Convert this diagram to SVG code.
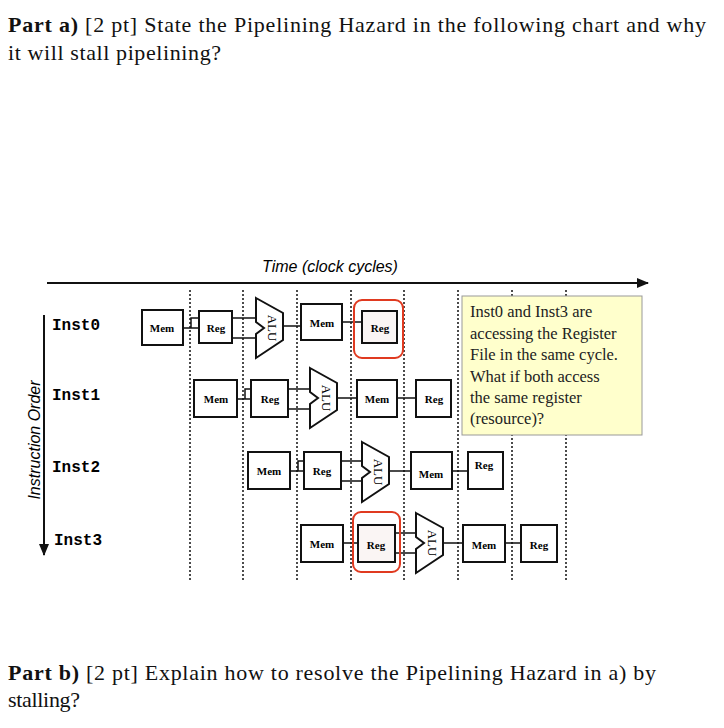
<svg xmlns="http://www.w3.org/2000/svg" width="724" height="728" viewBox="0 0 724 728">
<style>
.t{font-family:"Liberation Serif",serif;font-size:22px;fill:#111}
.b{stroke:#111;stroke-width:2;fill:#fff}
.l{font-family:"Liberation Serif",serif;font-size:11px;font-weight:bold;text-anchor:middle}
.i{font-family:"Liberation Mono",monospace;font-size:16px;font-weight:bold}
.w{stroke:#111;stroke-width:1.5;fill:none}
.d{stroke:#111;stroke-width:1.5;stroke-dasharray:2 2}
.hz{fill:none;stroke:#e03a20;stroke-width:2}
.n{font-family:"Liberation Serif",serif;font-size:16.5px;fill:#222}
</style>
<defs>
<marker id="ah" markerUnits="userSpaceOnUse" markerWidth="12" markerHeight="10" refX="11" refY="5" orient="auto"><path d="M0,0L12,5L0,10z" fill="#111"/></marker>
<g id="alu"><path d="M0,0L27,15L27,42L0,60L0,36L8,30L0,24Z" class="b"/><text transform="translate(16,30) rotate(90)" class="l" dy="4" style="font-weight:normal;font-size:13px">ALU</text></g>
</defs>
<text class="t" x="8" y="32" textLength="698"><tspan font-weight="bold">Part a)</tspan> [2 pt] State the Pipelining Hazard in the following chart and why</text>
<text class="t" x="8" y="60" textLength="213">it will stall pipelining?</text>
<text class="t" x="8" y="680" textLength="648"><tspan font-weight="bold">Part b)</tspan> [2 pt] Explain how to resolve the Pipelining Hazard in a) by</text>
<text class="t" x="8" y="707" textLength="72">stalling?</text>
<text x="330" y="272" font-family="Liberation Sans,sans-serif" font-size="16" font-style="italic" text-anchor="middle">Time (clock cycles)</text>
<text transform="translate(40,440) rotate(-90)" font-family="Liberation Sans,sans-serif" font-size="16" font-style="italic" text-anchor="middle">Instruction Order</text>
<g id="connectors">
<line x1="47" y1="283" x2="648" y2="283" stroke="#111" stroke-width="2" marker-end="url(#ah)"/>
<line x1="44" y1="315" x2="44" y2="555" stroke="#111" stroke-width="2" marker-end="url(#ah)"/>
<g class="d"><line x1="190" y1="290" x2="190" y2="582"/><line x1="243" y1="290" x2="243" y2="582"/><line x1="297" y1="290" x2="297" y2="582"/><line x1="351" y1="290" x2="351" y2="582"/><line x1="404" y1="290" x2="404" y2="582"/><line x1="458" y1="290" x2="458" y2="582"/><line x1="512" y1="290" x2="512" y2="582"/><line x1="566" y1="290" x2="566" y2="582"/></g>
<path class="w" d="M183,328H199M191,328V318H199M232,318H256M232,338H256M283,326H301M342,322H362"/>
<path class="w" d="M237,399H251M245,399V389H251M288,389H310M288,409H310M337,398H357M397,398H416"/>
<path class="w" d="M290,471H304M298,471V461H304M341,461H362M341,481H362M389,471H411M452,471H468"/>
<path class="w" d="M343,543H358M395,533H416M395,553H416M443,543H463M505,543H521"/>
</g>
<g id="inst0"><text class="i" x="52" y="330">Inst0</text>
<rect class="b" x="142" y="310" width="41" height="35"/><text class="l" x="162" y="332">Mem</text>
<rect class="b" x="199" y="311" width="33" height="32"/><text class="l" x="216" y="332">Reg</text>
<use href="#alu" x="256" y="298"/>
<rect class="b" x="301" y="304" width="41" height="36"/><text class="l" x="322" y="327">Mem</text>
<rect x="354" y="300" width="49" height="58" rx="8" class="hz"/>
<rect class="b" x="362" y="311" width="35" height="32" style="fill:#faf5f4"/><text class="l" x="380" y="332">Reg</text></g>
<g id="inst1"><text class="i" x="52" y="400">Inst1</text>
<rect class="b" x="194" y="380" width="43" height="37"/><text class="l" x="216" y="403">Mem</text>
<rect class="b" x="251" y="380" width="37" height="37"/><text class="l" x="270" y="403">Reg</text>
<use href="#alu" x="310" y="368"/>
<rect class="b" x="357" y="380" width="40" height="37"/><text class="l" x="377" y="403">Mem</text>
<rect class="b" x="416" y="380" width="35" height="37"/><text class="l" x="434" y="403">Reg</text></g>
<g id="inst2"><text class="i" x="52" y="472">Inst2</text>
<rect class="b" x="248" y="452" width="42" height="37"/><text class="l" x="269" y="475">Mem</text>
<rect class="b" x="304" y="452" width="37" height="37"/><text class="l" x="322" y="475">Reg</text>
<use href="#alu" x="362" y="442"/>
<rect class="b" x="411" y="452" width="41" height="37"/><text class="l" x="431" y="478">Mem</text>
<rect class="b" x="468" y="452" width="35" height="37"/><text class="l" x="484" y="469">Reg</text></g>
<g id="inst3"><text class="i" x="54" y="545">Inst3</text>
<rect class="b" x="301" y="525" width="42" height="37"/><text class="l" x="322" y="548">Mem</text>
<rect x="353" y="512" width="47" height="60" rx="8" class="hz"/>
<rect class="b" x="358" y="525" width="37" height="37" style="fill:#faf5f4"/><text class="l" x="376" y="549">Reg</text>
<use href="#alu" x="416" y="513"/>
<rect class="b" x="463" y="525" width="42" height="37"/><text class="l" x="484" y="549">Mem</text>
<rect class="b" x="521" y="525" width="36" height="37"/><text class="l" x="539" y="549">Reg</text></g>
<g id="note"><rect x="462" y="296" width="180" height="139" fill="#ffffcc" stroke="#999" stroke-width="1"/>
<text class="n" x="470" y="317">Inst0 and Inst3 are</text>
<text class="n" x="470" y="339">accessing the Register</text>
<text class="n" x="470" y="360">File in the same cycle.</text>
<text class="n" x="470" y="382">What if both access</text>
<text class="n" x="470" y="403">the same register</text>
<text class="n" x="470" y="424">(resource)?</text></g>
</svg>
